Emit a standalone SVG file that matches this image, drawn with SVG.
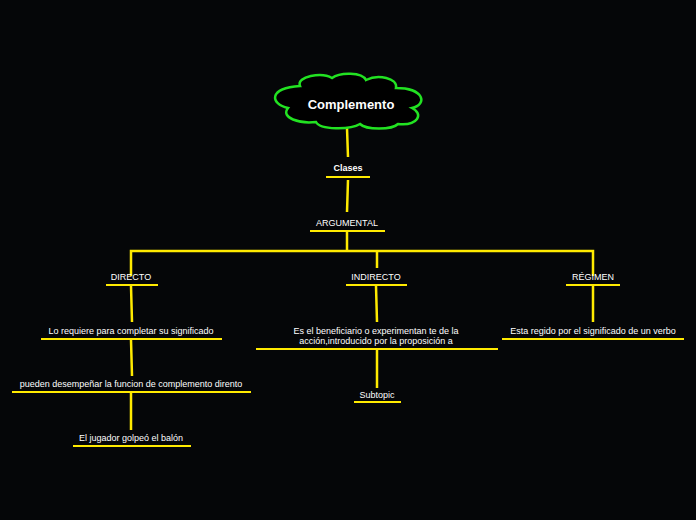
<svg xmlns="http://www.w3.org/2000/svg" width="696" height="520" viewBox="0 0 696 520">
<style>
.t{font-family:"Liberation Sans",Arial,sans-serif;font-size:9px;fill:#fff;text-anchor:middle}
.u{stroke:#ffea00;stroke-width:2;fill:none}
.c{stroke:#ffea00;stroke-width:2.5;fill:none}
</style>
<rect width="696" height="520" fill="#050608"/>
<g id="connectors">
<path class="c" d="M347 128 L348 157 M348 180 L347 212 M347 232 L347 251 M131 276 L131 251 L593 251 L593 276 M377 251 L377 268 M131 286 L132 322 M376 286 L377 322 M593 286 L593 322 M131 340 L132 376 M131 393 L131 430 M377 350 L377 388"/>
</g>
<g id="root">
<path d="M300 86 C296 76 322 72 332 78 C340 72 362 72 366 80 C378 74 398 78 396 88 C424 88 428 104 412 108 C424 114 418 126 398 124 C392 130 366 130 360 124 C350 130 320 130 316 122 C300 124 280 118 288 108 C270 104 268 88 300 86 Z" fill="#000" stroke="#22e222" stroke-width="2.5"/>
<text x="351" y="109" class="t" style="font-size:13px;font-weight:bold">Complemento</text>
</g>
<g id="clases"><text x="348" y="171" class="t" style="font-weight:bold">Clases</text><path class="u" d="M326 177 H370"/></g>
<g id="argumental"><text x="347" y="226" class="t">ARGUMENTAL</text><path class="u" d="M310 231 H385"/></g>
<g id="directo"><text x="131" y="280" class="t">DIRECTO</text><path class="u" d="M106 285 H158"/></g>
<g id="indirecto"><text x="376" y="280" class="t">INDIRECTO</text><path class="u" d="M346 285 H407"/></g>
<g id="regimen"><text x="593" y="280" class="t">RÉGIMEN</text><path class="u" d="M566 285 H620"/></g>
<g id="d1"><text x="131" y="334" class="t">Lo requiere para completar su significado</text><path class="u" d="M41 339 H222"/></g>
<g id="d2"><text x="131" y="387" class="t">pueden desempeñar la funcion de complemento dirento</text><path class="u" d="M12 392 H251"/></g>
<g id="d3"><text x="131" y="441" class="t">El jugador golpeó el balón</text><path class="u" d="M73 446 H191"/></g>
<g id="i1"><text x="376" y="334" class="t">Es el beneficiario o experimentan te de la</text><text x="376" y="344" class="t">acción,introducido por la proposición a</text><path class="u" d="M256 349 H498"/></g>
<g id="i2"><text x="377" y="398" class="t">Subtopic</text><path class="u" d="M354 402 H401"/></g>
<g id="r1"><text x="593" y="334" class="t">Esta regido por el significado de un verbo</text><path class="u" d="M502 339 H684"/></g>
</svg>
